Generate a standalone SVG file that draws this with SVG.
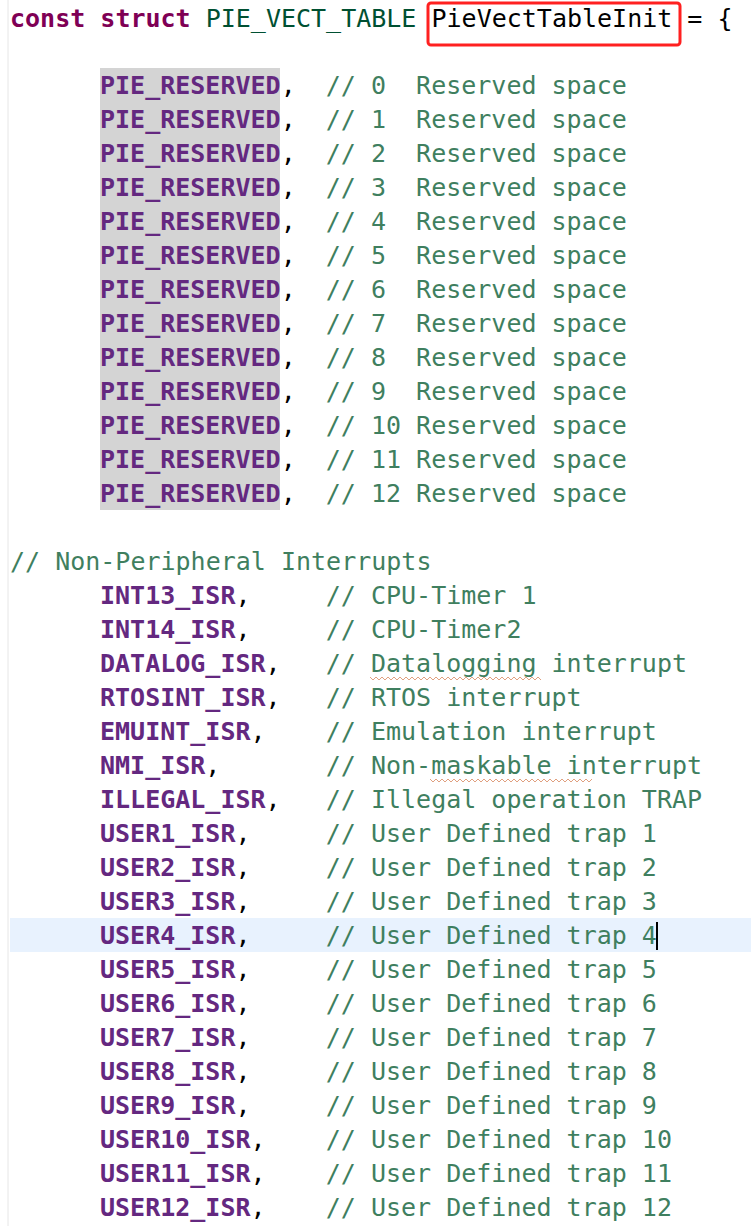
<svg xmlns="http://www.w3.org/2000/svg" width="751" height="1226" viewBox="0 0 751 1226">
<style>
text{font-family:"DejaVu Sans Mono","Liberation Mono",monospace;font-size:25px;white-space:pre}
.k{fill:#7f0055;font-weight:bold}
.t{fill:#005032}
.m{fill:#642880;font-weight:bold}
.c{fill:#3f7f5f}
.p{fill:#000}
</style>
<rect width="751" height="1226" fill="#fff"/>
<line x1="8" y1="0" x2="8" y2="1226" stroke="#e6e6e6"/>
<rect x="10" y="918" width="741" height="34" fill="#e8f2fe"/>
<rect x="100" y="68" width="180" height="442" fill="#d4d4d4"/>
<g id="code" xml:space="preserve">
<text x="10" y="27"><tspan class="k">const</tspan> <tspan class="k">struct</tspan> <tspan class="t">PIE_VECT_TABLE</tspan> <tspan class="p">PieVectTableInit = {</tspan></text>
<text x="100" y="94"><tspan class="m">PIE_RESERVED</tspan><tspan class="p">,</tspan>  <tspan class="c">// 0  Reserved space</tspan></text>
<text x="100" y="128"><tspan class="m">PIE_RESERVED</tspan><tspan class="p">,</tspan>  <tspan class="c">// 1  Reserved space</tspan></text>
<text x="100" y="162"><tspan class="m">PIE_RESERVED</tspan><tspan class="p">,</tspan>  <tspan class="c">// 2  Reserved space</tspan></text>
<text x="100" y="196"><tspan class="m">PIE_RESERVED</tspan><tspan class="p">,</tspan>  <tspan class="c">// 3  Reserved space</tspan></text>
<text x="100" y="230"><tspan class="m">PIE_RESERVED</tspan><tspan class="p">,</tspan>  <tspan class="c">// 4  Reserved space</tspan></text>
<text x="100" y="264"><tspan class="m">PIE_RESERVED</tspan><tspan class="p">,</tspan>  <tspan class="c">// 5  Reserved space</tspan></text>
<text x="100" y="298"><tspan class="m">PIE_RESERVED</tspan><tspan class="p">,</tspan>  <tspan class="c">// 6  Reserved space</tspan></text>
<text x="100" y="332"><tspan class="m">PIE_RESERVED</tspan><tspan class="p">,</tspan>  <tspan class="c">// 7  Reserved space</tspan></text>
<text x="100" y="366"><tspan class="m">PIE_RESERVED</tspan><tspan class="p">,</tspan>  <tspan class="c">// 8  Reserved space</tspan></text>
<text x="100" y="400"><tspan class="m">PIE_RESERVED</tspan><tspan class="p">,</tspan>  <tspan class="c">// 9  Reserved space</tspan></text>
<text x="100" y="434"><tspan class="m">PIE_RESERVED</tspan><tspan class="p">,</tspan>  <tspan class="c">// 10 Reserved space</tspan></text>
<text x="100" y="468"><tspan class="m">PIE_RESERVED</tspan><tspan class="p">,</tspan>  <tspan class="c">// 11 Reserved space</tspan></text>
<text x="100" y="502"><tspan class="m">PIE_RESERVED</tspan><tspan class="p">,</tspan>  <tspan class="c">// 12 Reserved space</tspan></text>
<text x="10" y="570" class="c">// Non-Peripheral Interrupts</text>
<text x="100" y="604"><tspan class="m">INT13_ISR</tspan><tspan class="p">,</tspan>     <tspan class="c">// CPU-Timer 1</tspan></text>
<text x="100" y="638"><tspan class="m">INT14_ISR</tspan><tspan class="p">,</tspan>     <tspan class="c">// CPU-Timer2</tspan></text>
<text x="100" y="672"><tspan class="m">DATALOG_ISR</tspan><tspan class="p">,</tspan>   <tspan class="c">// Datalogging interrupt</tspan></text>
<text x="100" y="706"><tspan class="m">RTOSINT_ISR</tspan><tspan class="p">,</tspan>   <tspan class="c">// RTOS interrupt</tspan></text>
<text x="100" y="740"><tspan class="m">EMUINT_ISR</tspan><tspan class="p">,</tspan>    <tspan class="c">// Emulation interrupt</tspan></text>
<text x="100" y="774"><tspan class="m">NMI_ISR</tspan><tspan class="p">,</tspan>       <tspan class="c">// Non-maskable interrupt</tspan></text>
<text x="100" y="808"><tspan class="m">ILLEGAL_ISR</tspan><tspan class="p">,</tspan>   <tspan class="c">// Illegal operation TRAP</tspan></text>
<text x="100" y="842"><tspan class="m">USER1_ISR</tspan><tspan class="p">,</tspan>     <tspan class="c">// User Defined trap 1</tspan></text>
<text x="100" y="876"><tspan class="m">USER2_ISR</tspan><tspan class="p">,</tspan>     <tspan class="c">// User Defined trap 2</tspan></text>
<text x="100" y="910"><tspan class="m">USER3_ISR</tspan><tspan class="p">,</tspan>     <tspan class="c">// User Defined trap 3</tspan></text>
<text x="100" y="944"><tspan class="m">USER4_ISR</tspan><tspan class="p">,</tspan>     <tspan class="c">// User Defined trap 4</tspan></text>
<text x="100" y="978"><tspan class="m">USER5_ISR</tspan><tspan class="p">,</tspan>     <tspan class="c">// User Defined trap 5</tspan></text>
<text x="100" y="1012"><tspan class="m">USER6_ISR</tspan><tspan class="p">,</tspan>     <tspan class="c">// User Defined trap 6</tspan></text>
<text x="100" y="1046"><tspan class="m">USER7_ISR</tspan><tspan class="p">,</tspan>     <tspan class="c">// User Defined trap 7</tspan></text>
<text x="100" y="1080"><tspan class="m">USER8_ISR</tspan><tspan class="p">,</tspan>     <tspan class="c">// User Defined trap 8</tspan></text>
<text x="100" y="1114"><tspan class="m">USER9_ISR</tspan><tspan class="p">,</tspan>     <tspan class="c">// User Defined trap 9</tspan></text>
<text x="100" y="1148"><tspan class="m">USER10_ISR</tspan><tspan class="p">,</tspan>    <tspan class="c">// User Defined trap 10</tspan></text>
<text x="100" y="1182"><tspan class="m">USER11_ISR</tspan><tspan class="p">,</tspan>    <tspan class="c">// User Defined trap 11</tspan></text>
<text x="100" y="1216"><tspan class="m">USER12_ISR</tspan><tspan class="p">,</tspan>    <tspan class="c">// User Defined trap 12</tspan></text>
</g>
<g id="marks" fill="none">
<path d="M370 677 l3 3 l3 -3 l3 3 l3 -3 l3 3 l3 -3 l3 3 l3 -3 l3 3 l3 -3 l3 3 l3 -3 l3 3 l3 -3 l3 3 l3 -3 l3 3 l3 -3 l3 3 l3 -3 l3 3 l3 -3 l3 3 l3 -3 l3 3 l3 -3 l3 3 l3 -3 l3 3 l3 -3 l3 3 l3 -3 l3 3 l3 -3 l3 3 l3 -3 l3 3 l3 -3 l3 3 l3 -3 l3 3 l3 -3 l3 3 l3 -3 l3 3 l3 -3 l3 3 l3 -3 l3 3 l3 -3 l3 3 l3 -3 l3 3 l3 -3 l3 3 l3 -3 l3 3" stroke="#e0a080" stroke-width="1"/>
<path d="M430 779 l3 3 l3 -3 l3 3 l3 -3 l3 3 l3 -3 l3 3 l3 -3 l3 3 l3 -3 l3 3 l3 -3 l3 3 l3 -3 l3 3 l3 -3 l3 3 l3 -3 l3 3 l3 -3 l3 3 l3 -3 l3 3 l3 -3 l3 3 l3 -3 l3 3 l3 -3 l3 3 l3 -3 l3 3 l3 -3 l3 3 l3 -3 l3 3 l3 -3 l3 3 l3 -3 l3 3 l3 -3 l3 3 l3 -3 l3 3 l3 -3 l3 3 l3 -3 l3 3 l3 -3 l3 3 l3 -3 l3 3 l3 -3 l3 3 l3 -3" stroke="#e0a080" stroke-width="1"/>
<rect x="428" y="3" width="252" height="42" rx="3" stroke="#ff2020" stroke-width="3"/>
<line x1="657" y1="922" x2="657" y2="950" stroke="#000" stroke-width="2"/>
</g>
</svg>
